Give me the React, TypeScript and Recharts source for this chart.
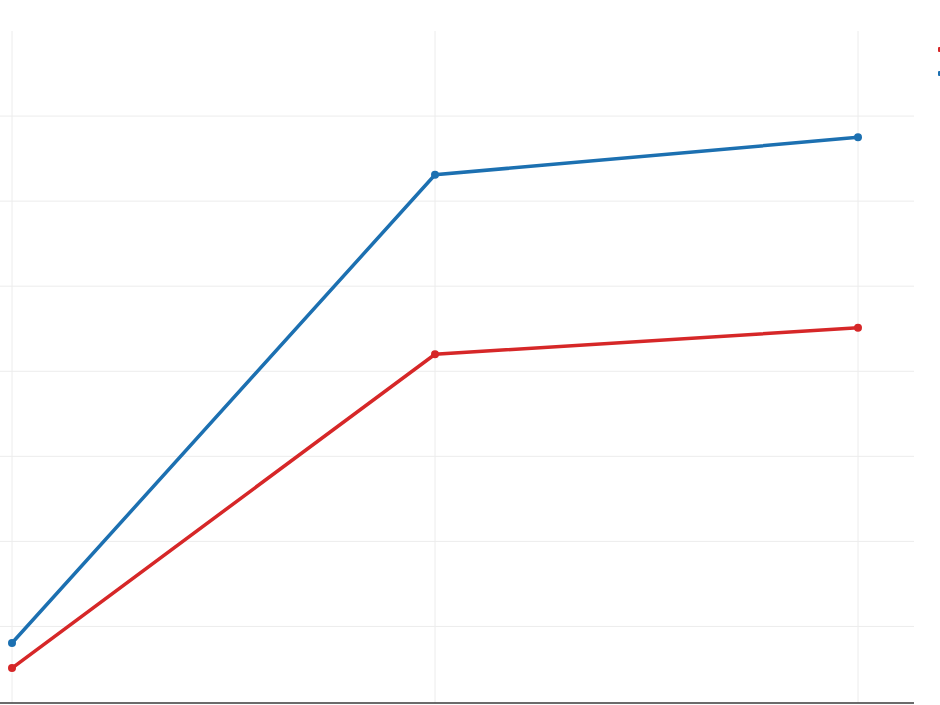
import { Line, LineChart, ReferenceLine, XAxis, YAxis } from "recharts";

const categories = ["A", "B", "C"];
const blueSeries = [8.05, 63.1, 67.5];
const redSeries = [5.1, 42.0, 45.1];
const yTicks = [10, 20, 30, 40, 50, 60, 70];

const data = categories.map((name, i) => ({
  name,
  blue: blueSeries[i],
  red: redSeries[i],
}));

const BLUE = "#1c70b1";
const RED = "#d62728";
const GRID = "#ececec";

// legend is cut off at the right edge, only the swatches peek in
function LegendMarks() {
  return (
    <div style={{ position: "absolute", left: 938, top: 47, width: 10, height: 40 }}>
      <div style={{ position: "absolute", left: 0, top: 0, width: 10, height: 5, background: RED, borderRadius: 1 }} />
      <div style={{ position: "absolute", left: 0, top: 24, width: 10, height: 5, background: BLUE, borderRadius: 1 }} />
    </div>
  );
}

export default function App() {
  return (
    <div style={{ position: "absolute", left: 0, top: 0, width: 940, height: 705, overflow: "hidden", background: "#fff" }}>
      <LineChart
        width={940}
        height={705}
        data={data}
        margin={{ top: 31, right: 26, bottom: 0, left: 0 }}
      >
        {categories.map((c) => (
          <ReferenceLine key={c} x={c} stroke={GRID} strokeWidth={1} />
        ))}
        {yTicks.map((t) => (
          <ReferenceLine key={t} y={t} stroke={GRID} strokeWidth={1} />
        ))}
        <XAxis
          dataKey="name"
          padding={{ left: 12, right: 56 }}
          tick={false}
          tickLine={false}
          height={2}
          axisLine={{ stroke: "#3a3a3a", strokeWidth: 1.6 }}
        />
        <YAxis hide domain={[1, 80]} ticks={yTicks} type="number" />
        <Line
          type="linear"
          dataKey="blue"
          stroke={BLUE}
          strokeWidth={3.5}
          dot={{ r: 4, fill: BLUE, stroke: BLUE, strokeWidth: 0 }}
          isAnimationActive={false}
        />
        <Line
          type="linear"
          dataKey="red"
          stroke={RED}
          strokeWidth={3.5}
          dot={{ r: 4, fill: RED, stroke: RED, strokeWidth: 0 }}
          isAnimationActive={false}
        />
      </LineChart>
      <LegendMarks />
    </div>
  );
}
